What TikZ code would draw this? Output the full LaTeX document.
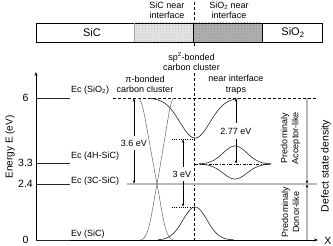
\documentclass[tikz,border=0pt]{standalone}
\usepackage{fontspec}
\setmainfont{Liberation Sans}
\usetikzlibrary{arrows.meta,patterns}
\tikzset{
  lbl/.style={inner sep=0pt, font=\fontsize{9}{10.5}\selectfont, align=center},
  biglbl/.style={inner sep=0pt, font=\fontsize{11}{12}\selectfont},
  ticklbl/.style={inner sep=0pt, font=\fontsize{10.5}{12}\selectfont},
  axlbl/.style={inner sep=0pt, font=\fontsize{10.5}{12}\selectfont, rotate=90},
  curve/.style={line width=0.6pt, black!85},
  picurve/.style={line width=0.5pt, black!60},
  arr/.style={line width=0.5pt, -{Stealth[length=3.2pt,width=2.6pt]}},
  level/.style={line width=0.8pt, black!85},
  grayline/.style={line width=1.1pt, gray!55},
  dashline/.style={line width=0.5pt, dash pattern=on 3pt off 2pt},
  dotline/.style={line width=0.5pt, dash pattern=on 1pt off 1.2pt},
  dashdot/.style={line width=0.5pt, dash pattern=on 3pt off 1.5pt on 0.8pt off 1.5pt}
}
\begin{document}
\begin{tikzpicture}[x=1pt,y=-1pt]
\useasboundingbox (0,0) rectangle (333,246);

% ---- top bar ----
\fill[gray!18] (134,23) rectangle (193,42);
\fill[pattern=crosshatch dots, pattern color=gray!60] (134,23) rectangle (193,42);
\fill[gray!60] (193,23) rectangle (262,42);
\fill[pattern=crosshatch dots, pattern color=gray!90] (193,23) rectangle (262,42);
\draw[line width=0.6pt] (36,23) rectangle (322,42);
\draw[line width=0.4pt, gray!70] (134,23) -- (134,42);
\draw[line width=0.4pt] (262,23) -- (262,42);
\draw[line width=1pt] (193,23) -- (193,42);
\node[biglbl] (sic) at (92,32.5) {SiC};
\node[biglbl] (sio2) at (293,32.5) {SiO\textsubscript{2}};
\node[lbl] (sicni) at (167,10.5) {SiC near\\interface};
\node[lbl] (sio2ni) at (229,10.5) {SiO\textsubscript{2} near\\interface};

% ---- dashed interface line ----
\coordinate (d0) at (194,2);
\coordinate (d1) at (194,22);
\coordinate (d2) at (194,43);
\coordinate (d3) at (194,48);
\coordinate (d4) at (194,73);
\coordinate (d5) at (194,240);
\draw[dashline] (d0) -- (d1);
\draw[dashline] (d2) -- (d3);
\draw[dashline] (d4) -- (d5);
\node[lbl] (sp2) at (191.5,61.5) {sp\textsuperscript{2}-bonded\\carbon cluster};
\node[lbl] (pib) at (145,84.5) {π-bonded\\carbon cluster};
\node[lbl] (nit) at (236,84.5) {near interface\\traps};

% ---- axes ----
\coordinate (o) at (36,240);
\coordinate (ytop) at (36,72);
\coordinate (xend) at (318,240);
\draw[line width=0.6pt, -{Stealth[length=4pt,width=3pt]}] (o) -- (ytop);
\draw[line width=0.6pt, -{Stealth[length=4pt,width=3pt]}] (o) -- (xend);
\node[inner sep=0pt, font=\fontsize{10.5}{12}\selectfont] (xl) at (328,241) {X};
\node[axlbl, font=\fontsize{10}{12}\selectfont] (el) at (10,147) {Energy E (eV)};
\node[axlbl] (dsd) at (326,166) {Defect state density};

% ticks
\node[ticklbl] (t6) at (25.5,98) {6};
\node[ticklbl] (t33) at (25.5,163) {3.3};
\node[ticklbl] (t24) at (25.5,184) {2.4};
\node[ticklbl] (t0) at (25.5,240) {0};

% levels
\draw[level] (36,98) -- (70,98);
\draw[level] (36,163) -- (70,163);
\draw[level] (36,184) -- (70,184);
\draw[level] (36,240) -- (70,240);
\node[lbl, anchor=west] (ecsio2) at (71,90) {Ec (SiO\textsubscript{2})};
\node[lbl, anchor=west] (ec4h) at (71,156) {Ec (4H-SiC)};
\node[lbl, anchor=west] (ec3c) at (71,181) {Ec (3C-SiC)};
\node[lbl, anchor=west] (evsic) at (71,234) {Ev (SiC)};

% Ec(SiO2) dashed level and Ec(3C) gray level
\draw[dashline] (113,98) -- (317,98);
\draw[grayline] (127,184) -- (317,184);

% defect density axis
\draw[grayline] (307,98) -- (307,240);
\draw[line width=0.5pt, gray!55, -{Stealth[length=3.2pt,width=2.6pt,color=black]}] (307,170) -- (307,183.5);
\draw[line width=0.5pt, gray!55, -{Stealth[length=3.2pt,width=2.6pt,color=black]}] (307,198) -- (307,184.5);
\node[lbl, rotate=90, font=\fontsize{9}{11}\selectfont] (acc) at (290.5,138) {Predominaly\\Acceptor-like};
\node[lbl, rotate=90, font=\fontsize{9}{11}\selectfont] (don) at (290.5,212) {Predominaly\\Donor-like};

% ---- pi-bonded curves ----
\draw[picurve] (138,98) .. controls (143,99) and (145,120) .. (157,184)
               .. controls (163,216) and (165,238) .. (173,240);
\draw[picurve] (174,98) .. controls (170,99) and (168,122) .. (157,184)
               .. controls (151,216) and (149,238) .. (141,240);

% ---- sp2 curves ----
\draw[curve] plot[domain=150:240, samples=90] (\x, {98+40*exp(-0.5*((\x-195)/15)^2)});
\draw[curve] plot[domain=158:234, samples=90] (\x, {240-33*exp(-0.5*((\x-195)/12)^2)});

% ---- near interface traps lens ----
\draw[dashdot] (195,164) -- (268,164);
\draw[curve] plot[domain=199:271, samples=80] (\x, {164-18*exp(-0.5*((\x-235)/12)^2)});
\draw[curve] plot[domain=199:271, samples=80] (\x, {164+15*exp(-0.5*((\x-235)/12)^2)});

% dotted helper levels
\draw[dotline] (172,139) -- (195,139);
\draw[dotline] (172,207) -- (195,207);

% ---- energy arrows ----
\node[lbl] (e36) at (134,143) {3.6 eV};
\draw[arr] (134,136) -- (134,98.5);
\draw[arr] (134,150) -- (134,183.5);

\node[lbl] (e277) at (236,131) {2.77 eV};
\draw[arr] (236,123) -- (236,98.5);
\draw[arr] (236,139) -- (236,163.5);

\node[lbl] (e3) at (182,174) {3 eV};
\draw[arr] (183,167) -- (183,139.5);
\draw[arr] (183,181) -- (183,206.5);
\end{tikzpicture}
\end{document}
